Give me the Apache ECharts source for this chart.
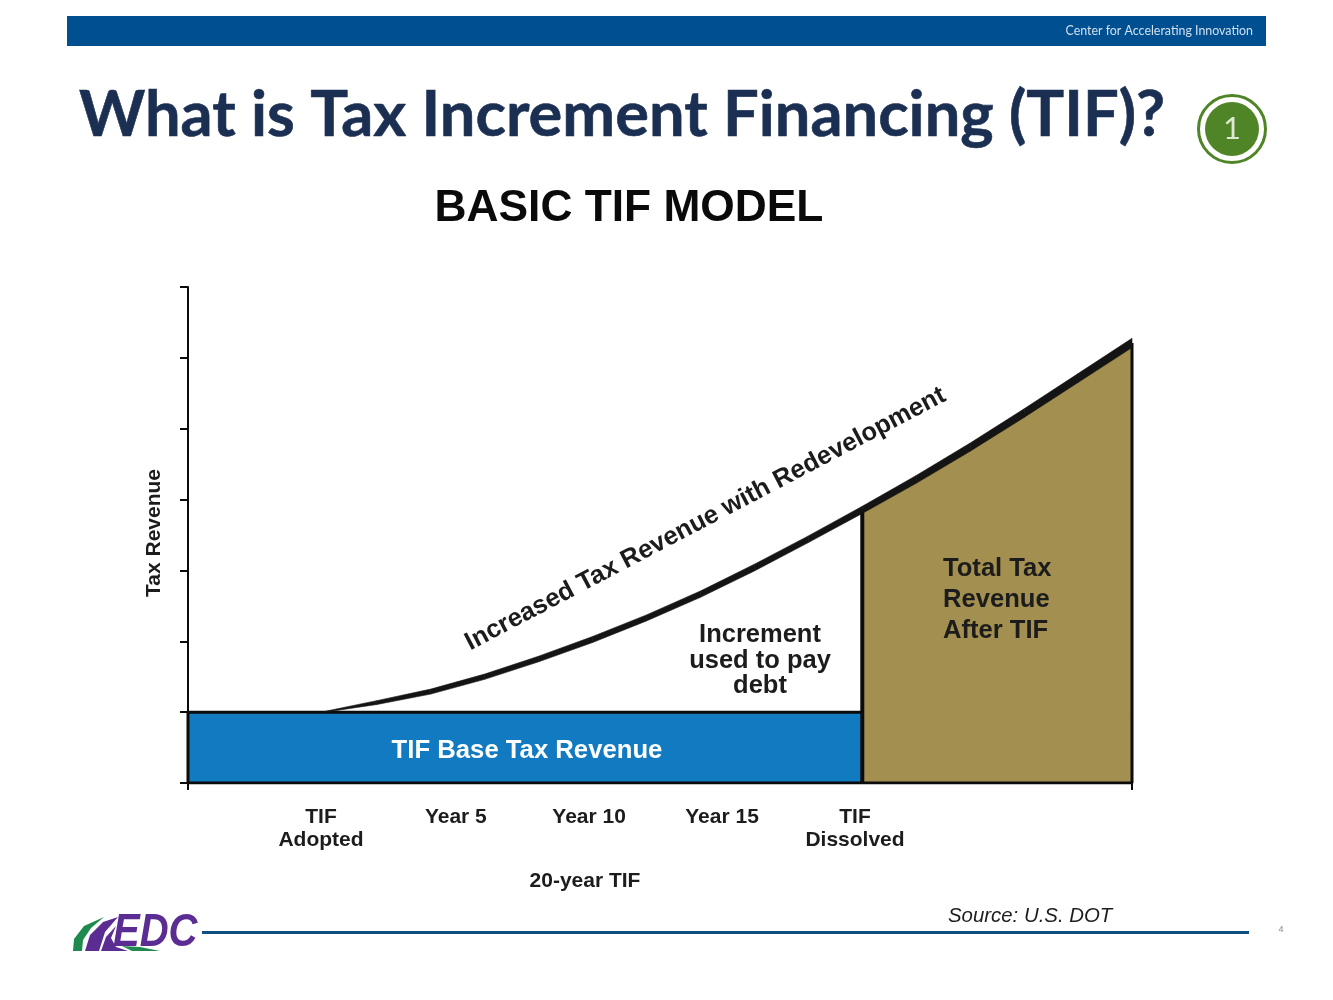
<!DOCTYPE html>
<html><head><meta charset="utf-8">
<style>html,body{margin:0;padding:0;background:#fff}#c{width:1333px;height:1000px}</style>
<script src="https://cdn.jsdelivr.net/npm/echarts@6/dist/echarts.min.js"></script></head>
<body><div id="c"></div>
<script>
const slideTitle = 'What is Tax Increment Financing (TIF)?';
const chartTitle = 'BASIC TIF MODEL';
const orgName = 'Center for Accelerating Innovation';
const tickNames = ['TIF\nAdopted', 'Year 5', 'Year 10', 'Year 15', 'TIF\nDissolved'];
const tickYears = [-0.07, 4.93, 9.87, 14.8, 19.73];
const axisEnds = [-5, 30];
const dissolvedYear = 20;
const baseRevenue = 1;
const curveYears = [0, 2, 4, 6, 8, 10, 12, 14, 16, 18, 20, 22, 24, 26, 28, 30];
const curveRevenue = [1.0, 1.135, 1.29, 1.5, 1.75, 2.025, 2.33, 2.665, 3.04, 3.44, 3.855, 4.285, 4.74, 5.22, 5.715, 6.21];
const curveThickness = [0.01, 0.055, 0.07, 0.075, 0.08, 0.085, 0.085, 0.09, 0.095, 0.095, 0.1, 0.11, 0.115, 0.12, 0.125, 0.13];

const black = '#0b0b0b', ink = '#1c1c1c';
const sans = '"Liberation Sans", Arial, sans-serif';
const afterIdx = curveYears.indexOf(dissolvedYear);
const afterPts = curveYears.slice(afterIdx).map((y, i) => [y, curveRevenue[afterIdx + i]]);
const lastRev = curveRevenue[curveRevenue.length - 1];
const bandRows = curveYears.slice(0, -1).map((y, i) => [
  y, curveRevenue[i] - curveThickness[i] / 2, curveRevenue[i] + curveThickness[i] / 2,
  curveYears[i + 1], curveRevenue[i + 1] - curveThickness[i + 1] / 2, curveRevenue[i + 1] + curveThickness[i + 1] / 2
]);

function text(x, y, t, size, opt) {
  return { type: 'text', x, y, z: 20, silent: true,
    style: Object.assign({ text: t, font: 'bold ' + size + 'px ' + sans, fill: ink,
      align: 'center', verticalAlign: 'middle' }, opt || {}) };
}
const chart = echarts.init(document.getElementById('c'), null, { renderer: 'canvas' });
chart.setOption({
  animation: false,
  backgroundColor: '#fff',
  grid: { left: 188, right: 201, top: 287, bottom: 217, containLabel: false },
  xAxis: {
    type: 'value', min: axisEnds[0], max: axisEnds[1], splitLine: { show: false },
    axisLine: { show: true, lineStyle: { color: black, width: 2 } },
    axisTick: { show: true, customValues: axisEnds, length: 7, lineStyle: { color: black, width: 2 } },
    axisLabel: { customValues: tickYears, margin: 23, color: ink, lineHeight: 23, hideOverlap: false,
      fontFamily: sans, fontWeight: 'bold', fontSize: 21, align: 'center', verticalAlign: 'top',
      formatter: (v) => tickNames[tickYears.indexOf(v)] }
  },
  yAxis: {
    type: 'value', min: 0, max: 7, interval: 1, splitLine: { show: false },
    name: 'Tax Revenue', nameLocation: 'middle', nameGap: 23,
    nameTextStyle: { color: ink, fontFamily: sans, fontWeight: 'bold', fontSize: 21, padding: [0, 0, 0, 4] },
    axisLine: { show: true, onZero: false, lineStyle: { color: black, width: 2 } },
    axisTick: { show: true, length: 8, lineStyle: { color: black, width: 2 } },
    axisLabel: { show: false }
  },
  series: [
    { name: 'Base', type: 'line', symbol: 'none', z: 2, silent: true,
      data: [[axisEnds[0], baseRevenue], [dissolvedYear, baseRevenue]],
      lineStyle: { color: black, width: 3 }, areaStyle: { color: '#127ac0', opacity: 1 } },
    { name: 'After', type: 'line', symbol: 'none', z: 2, silent: true,
      data: afterPts, lineStyle: { width: 0 }, areaStyle: { color: '#a38f4f', opacity: 1 } },
    { name: 'Outline', type: 'line', symbol: 'none', z: 3, silent: true,
      data: [[axisEnds[0], baseRevenue], [axisEnds[0], 0], [axisEnds[1], 0], [axisEnds[1], lastRev]],
      lineStyle: { color: black, width: 3 } },
    { name: 'Divider', type: 'line', symbol: 'none', z: 3, silent: true,
      data: [[dissolvedYear, 0], [dissolvedYear, curveRevenue[afterIdx]]],
      lineStyle: { color: black, width: 4 } },
    { name: 'Curve', type: 'custom', z: 4, silent: true, data: bandRows,
      encode: { x: [0, 3], y: [1, 2, 4, 5] },
      renderItem: (params, api) => ({
        type: 'polygon',
        shape: { points: [
          api.coord([api.value(0), api.value(1)]), api.coord([api.value(3), api.value(4)]),
          api.coord([api.value(3), api.value(5)]), api.coord([api.value(0), api.value(2)])
        ] },
        style: { fill: '#141414', stroke: '#141414', lineWidth: 0.6 }
      }) }
  ],
  graphic: [
    { type: 'rect', z: 10, silent: true, shape: { x: 67, y: 16, width: 1199, height: 30 }, style: { fill: '#004f91' } },
    text(1253, 31, orgName, 12.4, { font: '12.4px Lato, sans-serif', fill: '#cfe0ee', align: 'right' }),
    text(79, 116, slideTitle, 63.2, { font: 'bold 63.2px Lato, sans-serif', fill: '#1b2f52', align: 'left', stroke: '#1b2f52', lineWidth: 0.6 }),
    { type: 'circle', z: 10, silent: true, shape: { cx: 1232, cy: 129, r: 33.5 }, style: { fill: '#fff', stroke: '#4f8526', lineWidth: 3 } },
    { type: 'circle', z: 11, silent: true, shape: { cx: 1232, cy: 129, r: 27 }, style: { fill: '#4f8526' } },
    text(1232, 129, '1', 31, { font: '31px Lato, sans-serif', fill: '#dfe8d4' }),
    text(629, 209, chartTitle, 44.3, { fill: '#0a0a0a' }),
    Object.assign(text(705.5, 519, 'Increased Tax Revenue with Redevelopment', 25.6), { rotation: 27.7 * Math.PI / 180 }),
    text(527, 751, 'TIF Base Tax Revenue', 25.7, { fill: '#fff' }),
    text(760, 635, 'Increment', 25.5),
    text(760, 661, 'used to pay', 25.5),
    text(760, 686, 'debt', 25.5),
    text(943, 569, 'Total Tax', 25.6, { align: 'left' }),
    text(943, 600, 'Revenue', 25.6, { align: 'left' }),
    text(943, 631, 'After TIF', 25.6, { align: 'left' }),
    text(585, 881, '20-year TIF', 21),
    text(948, 916, 'Source: U.S. DOT', 20.4, { font: 'italic 20.4px ' + sans, align: 'left' }),
    { type: 'rect', z: 10, silent: true, shape: { x: 202, y: 931, width: 1047, height: 3 }, style: { fill: '#0f4f80' } },
    text(1281, 930, '4', 9, { font: '9px ' + sans, fill: '#8a8a8a' }),
    { type: 'polygon', z: 12, silent: true, shape: { points: [[73,951],[74,939],[84,926],[104,917],[91,928],[83,940],[82,951]] }, style: { fill: '#1f8a4d' } },
    { type: 'polygon', z: 12, silent: true, shape: { points: [[85,951],[90,935],[103,922],[118,917],[105,932],[99,951]] }, style: { fill: '#5b2c92' } },
    { type: 'polygon', z: 12, silent: true, shape: { points: [[101,951],[106,937],[116,926],[111,938],[116,947],[128,951]] }, style: { fill: '#5b2c92' } },
    { type: 'polygon', z: 12, silent: true, shape: { points: [[122,946],[140,947],[160,951],[132,951]] }, style: { fill: '#1f8a4d' } },
    Object.assign(text(0, 0, 'EDC', 46, { font: 'italic bold 46px ' + sans, fill: '#5b2c92', align: 'left' }),
      { x: 113, y: 933, scaleX: 0.87, scaleY: 1 })
  ]
});
</script></body></html>
